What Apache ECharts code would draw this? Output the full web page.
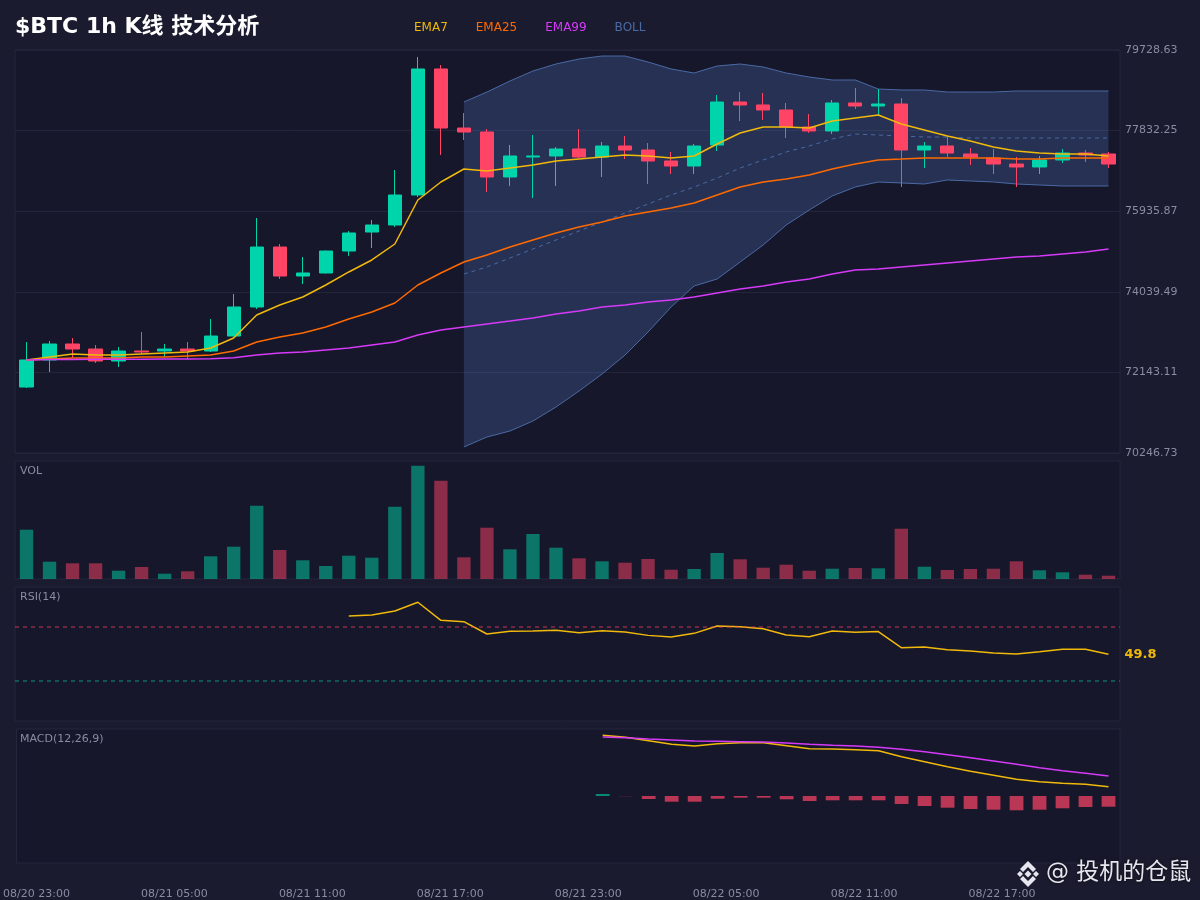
<!DOCTYPE html>
<html>
<head>
<meta charset="utf-8">
<title>$BTC 1h K线 技术分析</title>
<script src="https://cdn.jsdelivr.net/npm/echarts@6/dist/echarts.min.js"></script>
<style>
  html, body { margin: 0; padding: 0; background: #1a1b2e; }
  #main { width: 1200px; height: 900px; }
</style>
</head>
<body>
<div id="main"></div>
<script type="text/javascript">
// 时间轴 (1h)
var categories = [
  '08/20 23:00',
  '08/21 00:00','08/21 01:00','08/21 02:00','08/21 03:00','08/21 04:00','08/21 05:00',
  '08/21 06:00','08/21 07:00','08/21 08:00','08/21 09:00','08/21 10:00','08/21 11:00',
  '08/21 12:00','08/21 13:00','08/21 14:00','08/21 15:00','08/21 16:00','08/21 17:00',
  '08/21 18:00','08/21 19:00','08/21 20:00','08/21 21:00','08/21 22:00','08/21 23:00',
  '08/22 00:00','08/22 01:00','08/22 02:00','08/22 03:00','08/22 04:00','08/22 05:00',
  '08/22 06:00','08/22 07:00','08/22 08:00','08/22 09:00','08/22 10:00','08/22 11:00',
  '08/22 12:00','08/22 13:00','08/22 14:00','08/22 15:00','08/22 16:00','08/22 17:00',
  '08/22 18:00','08/22 19:00','08/22 20:00','08/22 21:00','08/22 22:00'
];

// K线 open / close / low / high
var opens  = [71799,72435,72811,72693,72411,72646,72646,72693,72646,72999,73682,75093,74411,74482,74999,75446,
              75611,76317,79282,77893,77799,76741,77211,77235,77399,77211,77470,77376,77117,76999,77493,78505,
              78435,78317,77917,77823,78482,78411,78458,77376,77470,77282,77188,77046,76976,77141,77305,77282];
var closes = [72435,72811,72693,72411,72646,72623,72693,72646,72999,73682,75093,74411,74482,74999,75423,75611,
              76317,79282,77893,77799,76741,77235,77235,77399,77211,77470,77376,77117,76999,77470,78505,78435,
              78317,77917,77823,78482,78411,78458,77376,77470,77305,77211,77046,76976,77141,77305,77258,77046];
var lows   = [71776,72152,72482,72364,72270,72576,72505,72458,72623,72990,73635,74341,74223,74470,74882,75070,
              75564,76270,77258,77611,76388,76529,76246,76529,77188,76741,77164,76576,76811,76811,77352,78058,
              78082,77658,77776,77752,78340,78199,76505,76952,77211,77023,76811,76505,76811,77070,77093,76952];
var highs  = [72858,72882,72952,72788,72741,73093,72811,72858,73399,73988,75776,75164,74858,75010,75470,75729,
              76905,79564,79376,78246,77870,77493,77729,77446,77870,77564,77705,77540,77329,77517,78670,78740,
              78717,78482,78223,78552,78835,78811,78599,77564,77682,77423,77399,77211,77235,77399,77376,77329];

// 均线
var ema7  = [72435,72505,72576,72552,72552,72576,72599,72623,72717,72952,73494,73729,73917,74199,74506,74788,
             75164,76199,76623,76929,76882,76952,77023,77117,77164,77211,77258,77235,77188,77235,77517,77776,
             77917,77917,77893,78058,78129,78199,77988,77846,77705,77588,77446,77352,77305,77282,77282,77235];
var ema25 = [72435,72458,72482,72482,72482,72505,72505,72529,72552,72646,72858,72976,73070,73211,73399,73564,
             73776,74199,74482,74741,74905,75093,75258,75423,75564,75682,75823,75917,76011,76129,76317,76505,
             76623,76693,76788,76929,77046,77141,77164,77188,77188,77188,77188,77164,77164,77188,77188,77188];
var ema99 = [72435,72447,72447,72452,72452,72452,72458,72458,72466,72489,72552,72599,72623,72670,72717,72788,
             72858,73023,73141,73211,73282,73352,73423,73517,73588,73682,73729,73800,73847,73917,74012,74106,
             74176,74270,74341,74459,74553,74576,74623,74670,74717,74764,74811,74858,74882,74929,74976,75047];

// BOLL (从 08/21 18:00 开始)
var bollUpper = [78505,78740,78999,79235,79399,79517,79587,79587,79446,79282,79187,79352,79399,79329,79187,
                 79093,79023,79023,78811,78788,78788,78740,78740,78740,78764,78764,78764,78764,78764];
var bollMid   = [74459,74623,74835,75047,75258,75470,75682,75894,76105,76317,76505,76717,76952,77141,77329,
                 77470,77635,77752,77729,77705,77682,77682,77658,77658,77658,77658,77658,77658,77658];
var bollLower = [70388,70623,70764,70999,71329,71705,72105,72552,73093,73682,74176,74341,74741,75141,75611,
                 75964,76294,76505,76623,76600,76576,76670,76647,76623,76576,76552,76529,76529,76529];

// 成交量
var volumes = [1479,519,471,471,249,360,159,231,681,969,2199,870,561,390,699,639,
               2169,3399,2949,651,1539,891,1350,939,621,531,489,600,279,300,780,591,
               339,429,249,309,330,321,1509,369,270,300,309,531,261,201,129,99];

// RSI(14) (从 08/21 13:00 开始)
var rsi = [78.4,79.1,82.1,88.6,75.1,74.1,64.9,66.9,67.2,67.7,65.9,67.4,66.4,63.9,62.7,65.4,
           70.9,70.4,68.9,64.2,62.9,67.2,66.2,66.7,54.7,55.2,53.2,52.2,50.7,50.0,51.7,53.5,53.5,49.8];
var rsiLevels = [70, 30];

// MACD(12,26,9) (从 08/22 00:00 开始)
var macdDif  = [607,587,553,517,500,523,533,533,503,473,470,463,453,393,343,293,247,207,167,143,127,117,93];
var macdDea  = [590,583,570,560,550,547,543,540,530,517,507,500,487,467,443,413,383,350,317,283,253,227,200];
var macdHist = [20,-2,-30,-57,-57,-27,-17,-17,-33,-50,-43,-43,-43,-80,-100,-117,-130,-137,-143,-137,-123,-110,-107];

var yTicks = [70246.73, 72143.11, 74039.49, 75935.87, 77832.25, 79728.63];

var upColor = '#00d4aa';
var downColor = '#ff4466';
var labelColor = '#8a8ba3';

function pad(arr) {
  var out = [];
  for (var i = 0; i < categories.length - arr.length; i++) out.push('-');
  return out.concat(arr);
}

var kData = [];
for (var i = 0; i < opens.length; i++) {
  kData.push([opens[i], closes[i], lows[i], highs[i]]);
}

var volData = volumes.map(function (v, i) {
  return {
    value: v,
    itemStyle: { color: closes[i] >= opens[i] ? 'rgba(0,212,170,0.5)' : 'rgba(255,68,102,0.5)' }
  };
});

var histData = pad(macdHist).map(function (v) {
  if (v === '-') return '-';
  return { value: v, itemStyle: { color: v >= 0 ? 'rgba(0,212,170,0.6)' : 'rgba(255,68,102,0.7)' } };
});

var bandData = bollUpper.map(function (v, i) { return v - bollLower[i]; });

var myChart = echarts.init(document.getElementById('main'));

var gridBase = { left: 15, right: 80, show: true, backgroundColor: '#16172a', borderColor: '#25273d', borderWidth: 1 };
var grids = [
  Object.assign({ top: 50, height: 403 }, gridBase),
  Object.assign({ top: 461, height: 118 }, gridBase),
  Object.assign({ top: 587, height: 134 }, gridBase),
  Object.assign({ top: 729, height: 134 }, gridBase)
];

var xAxes = [0, 1, 2, 3].map(function (i) {
  return {
    type: 'category',
    gridIndex: i,
    data: categories,
    boundaryGap: true,
    axisLine: { show: false },
    axisTick: { show: false },
    splitLine: { show: false },
    axisLabel: {
      show: i === 3,
      interval: 5,
      color: labelColor,
      fontSize: 11,
      margin: 26,
      padding: [0, 0, 0, 17]
    }
  };
});

var bollColor = '#4a6aa5';

// RSI 70 / 30 参考线
function levelSeries(level, color) {
  return {
    name: 'RSI' + level,
    type: 'line',
    xAxisIndex: 2, yAxisIndex: 2,
    data: [],
    silent: true,
    markLine: {
      silent: true,
      symbol: 'none',
      label: { show: false },
      lineStyle: { color: color, type: [4, 4], width: 1.5, opacity: 1 },
      emphasis: { disabled: true },
      data: [{ yAxis: level }]
    }
  };
}

option = {
  backgroundColor: '#1a1b2e',
  animation: false,
  textStyle: { fontFamily: '"DejaVu Sans", "Noto Sans CJK SC", sans-serif' },
  title: [
    { text: '$BTC 1h K线 技术分析', left: 15, top: 16, padding: 0,
      textStyle: { color: '#ffffff', fontSize: 22, fontWeight: 'bold' } },
    { text: 'VOL', left: 20, top: 466, padding: 0, textStyle: { color: labelColor, fontSize: 11, fontWeight: 'normal' } },
    { text: 'RSI(14)', left: 20, top: 592, padding: 0, textStyle: { color: labelColor, fontSize: 11, fontWeight: 'normal' } },
    { text: 'MACD(12,26,9)', left: 20, top: 734, padding: 0, textStyle: { color: labelColor, fontSize: 11, fontWeight: 'normal' } }
  ],
  legend: {
    top: 17,
    left: 400,
    itemWidth: 4,
    itemHeight: 12,
    itemGap: 19,
    icon: 'rect',
    itemStyle: { opacity: 0 },
    lineStyle: { opacity: 0 },
    textStyle: { fontSize: 12 },
    data: [
      { name: 'EMA7', textStyle: { color: '#f0b90b' } },
      { name: 'EMA25', textStyle: { color: '#ff6a00' } },
      { name: 'EMA99', textStyle: { color: '#d63af9' } },
      { name: 'BOLL', textStyle: { color: bollColor } }
    ]
  },
  grid: grids,
  xAxis: xAxes,
  yAxis: [
    {
      gridIndex: 0,
      position: 'right',
      scale: true,
      min: yTicks[0],
      max: yTicks[yTicks.length - 1],
      interval: yTicks[1] - yTicks[0],
      axisLine: { show: false },
      axisTick: { show: false },
      axisLabel: {
        color: labelColor,
        fontSize: 11,
        margin: 5,
        formatter: function (v) { return v.toFixed(2); }
      },
      splitLine: { lineStyle: { color: '#23253a' } }
    },
    { gridIndex: 1, min: 0, max: 3540, show: false, splitLine: { show: false } },
    { gridIndex: 2, min: 0, max: 100, show: false, splitLine: { show: false } },
    { gridIndex: 3, min: -670, max: 670, show: false, splitLine: { show: false } }
  ],
  graphic: [
    // 水印 logo
    { type: 'polygon', z: 100, shape: { points: [[1028, 870.5], [1031.5, 874], [1028, 877.5], [1024.5, 874]] }, style: { fill: '#e6e6ee' } },
    { type: 'polygon', z: 100, shape: { points: [[1017, 874], [1020, 871], [1023, 874], [1020, 877]] }, style: { fill: '#e6e6ee' } },
    { type: 'polygon', z: 100, shape: { points: [[1033, 874], [1036, 871], [1039, 874], [1036, 877]] }, style: { fill: '#e6e6ee' } },
    { type: 'polygon', z: 100, shape: { points: [[1028, 861], [1036, 869], [1033, 872], [1028, 867], [1023, 872], [1020, 869]] }, style: { fill: '#e6e6ee' } },
    { type: 'polygon', z: 100, shape: { points: [[1028, 887], [1036, 879], [1033, 876], [1028, 881], [1023, 876], [1020, 879]] }, style: { fill: '#e6e6ee' } },
    {
      type: 'text', z: 100, left: 1046, top: 862,
      style: {
        text: '@ 投机的仓鼠',
        fill: '#e6e6ee',
        font: '23px "DejaVu Sans", "Noto Sans CJK SC", sans-serif',
        textShadowColor: 'rgba(0,0,0,0.6)',
        textShadowBlur: 3
      }
    }
  ],
  series: [
    {
      name: 'BOLL下轨',
      type: 'line',
      xAxisIndex: 0, yAxisIndex: 0,
      data: pad(bollLower),
      stack: 'boll',
      symbol: 'none',
      z: 1,
      lineStyle: { color: bollColor, width: 1 }
    },
    {
      name: 'BOLL上轨',
      type: 'line',
      xAxisIndex: 0, yAxisIndex: 0,
      data: pad(bandData),
      stack: 'boll',
      symbol: 'none',
      z: 1,
      lineStyle: { color: bollColor, width: 1 },
      areaStyle: { color: 'rgba(74,106,175,0.46)' }
    },
    {
      name: 'BOLL',
      type: 'line',
      xAxisIndex: 0, yAxisIndex: 0,
      data: pad(bollMid),
      symbol: 'none',
      z: 2,
      itemStyle: { color: bollColor },
      lineStyle: { color: bollColor, width: 1, type: [4, 4] }
    },
    {
      name: 'K线',
      type: 'candlestick',
      xAxisIndex: 0, yAxisIndex: 0,
      data: kData,
      barWidth: '60%',
      z: 3,
      itemStyle: {
        color: upColor,
        color0: downColor,
        borderColor: upColor,
        borderColor0: downColor,
        borderWidth: 1
      }
    },
    {
      name: 'EMA7', type: 'line', xAxisIndex: 0, yAxisIndex: 0, data: ema7,
      symbol: 'none', z: 4, itemStyle: { color: '#f0b90b' }, lineStyle: { color: '#f0b90b', width: 1.5 }
    },
    {
      name: 'EMA25', type: 'line', xAxisIndex: 0, yAxisIndex: 0, data: ema25,
      symbol: 'none', z: 4, itemStyle: { color: '#ff6a00' }, lineStyle: { color: '#ff6a00', width: 1.5 }
    },
    {
      name: 'EMA99', type: 'line', xAxisIndex: 0, yAxisIndex: 0, data: ema99,
      symbol: 'none', z: 4, itemStyle: { color: '#d63af9' }, lineStyle: { color: '#d63af9', width: 1.5 }
    },
    {
      name: 'VOL',
      type: 'bar',
      xAxisIndex: 1, yAxisIndex: 1,
      data: volData,
      barWidth: '58%'
    },
    levelSeries(rsiLevels[0], 'rgba(255,68,102,0.5)'),
    levelSeries(rsiLevels[1], 'rgba(0,212,170,0.45)'),
    {
      name: 'RSI',
      type: 'line',
      xAxisIndex: 2, yAxisIndex: 2,
      data: pad(rsi),
      symbol: 'none',
      z: 3,
      lineStyle: { color: '#f0b90b', width: 1.5 },
      itemStyle: { color: '#f0b90b' },
      endLabel: {
        show: true,
        distance: 16,
        color: '#f0b90b',
        fontSize: 13,
        fontWeight: 'bold',
        formatter: function (p) { return Number(p.value).toFixed(1); }
      }
    },
    {
      name: 'MACD',
      type: 'bar',
      xAxisIndex: 3, yAxisIndex: 3,
      data: histData,
      barWidth: '60%'
    },
    {
      name: 'DIF', type: 'line', xAxisIndex: 3, yAxisIndex: 3, data: pad(macdDif),
      symbol: 'none', lineStyle: { color: '#f0b90b', width: 1.5 }, itemStyle: { color: '#f0b90b' }
    },
    {
      name: 'DEA', type: 'line', xAxisIndex: 3, yAxisIndex: 3, data: pad(macdDea),
      symbol: 'none', lineStyle: { color: '#d63af9', width: 1.5 }, itemStyle: { color: '#d63af9' }
    }
  ]
};

myChart.setOption(option);
</script>
</body>
</html>
